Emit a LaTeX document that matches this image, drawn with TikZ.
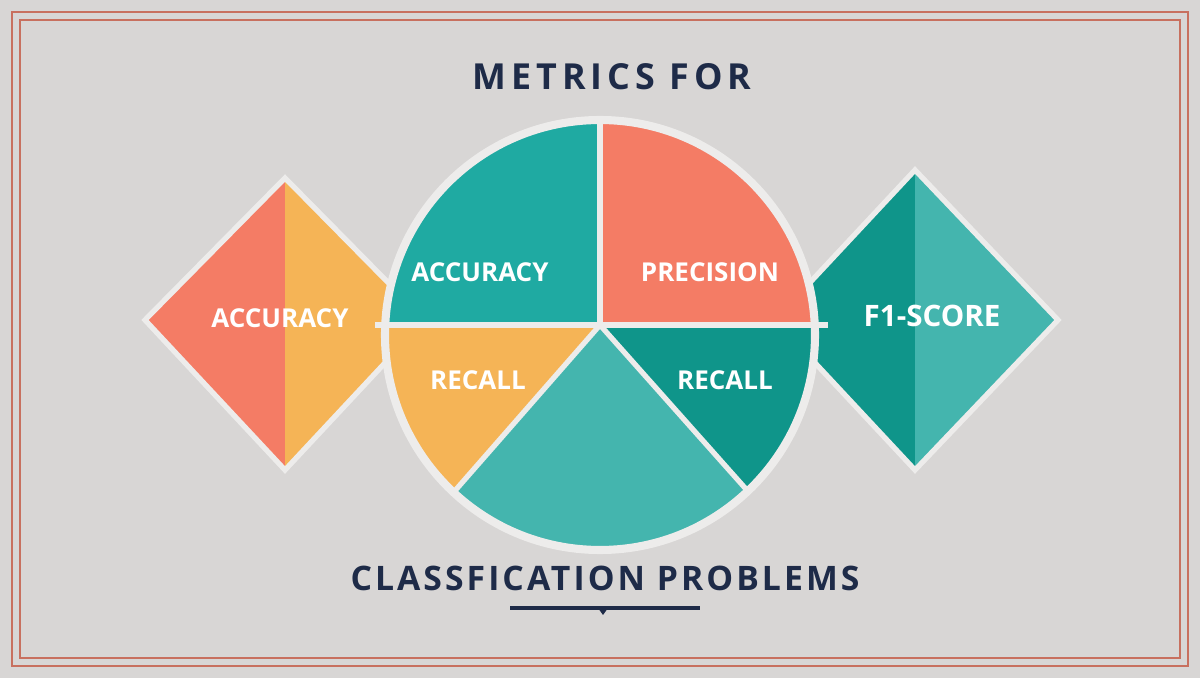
\documentclass[tikz,border=0pt]{standalone}
\usepackage{fontspec}
\setmainfont{Open Sans}
\usetikzlibrary{shapes.geometric}
\definecolor{bgGrey}{HTML}{D8D6D5}
\definecolor{frameRed}{HTML}{C8705F}
\definecolor{navy}{HTML}{1E2B48}
\definecolor{tealA}{HTML}{1FAAA2}
\definecolor{tealB}{HTML}{0F958A}
\definecolor{tealC}{HTML}{44B5AE}
\definecolor{salmon}{HTML}{F47C65}
\definecolor{amber}{HTML}{F5B456}
\definecolor{rim}{HTML}{EDECEB}
\tikzstyle{title} = [text=navy, font=\bfseries\fontsize{9.6}{11}\selectfont\addfontfeatures{LetterSpace=9}]
\tikzstyle{label} = [text=white, font=\bfseries\fontsize{7.4}{9}\selectfont]
\tikzstyle{rimline} = [draw=rim, line width=1.5pt]
\begin{document}
\begin{tikzpicture}
\fill[bgGrey] (0,0) rectangle (12,6.78);
\useasboundingbox (0,0) rectangle (12,6.78);
\draw[frameRed, line width=0.6pt] (0.12,0.12) rectangle (11.88,6.66);
\draw[frameRed, line width=0.4pt] (0.2,0.2) rectangle (11.8,6.58);

% left diamond
\fill[salmon] (1.45,3.58) -- (2.85,5.0) -- (2.85,2.08) -- cycle;
\fill[amber] (2.85,5.0) -- (4.25,3.58) -- (2.85,2.08) -- cycle;
\draw[rimline] (1.45,3.58) -- (2.85,5.0) -- (4.25,3.58) -- (2.85,2.08) -- cycle;

% right diamond
\fill[tealB] (7.75,3.58) -- (9.15,5.08) -- (9.15,2.08) -- cycle;
\fill[tealC] (9.15,5.08) -- (10.58,3.58) -- (9.15,2.08) -- cycle;
\draw[rimline] (7.75,3.58) -- (9.15,5.08) -- (10.58,3.58) -- (9.15,2.08) -- cycle;

% circle sectors
\begin{scope}
\clip (6,3.43) circle (2.15);
\fill[tealA] (3.8,3.53) rectangle (6,5.7);
\fill[salmon] (6,3.53) rectangle (8.2,5.7);
\fill[amber] (6,3.53) -- (3.8,3.53) -- (3.8,0.5) -- (3.9,1.13) -- cycle;
\fill[tealC] (6,3.53) -- (3.9,1.13) -- (3.9,0.8) -- (8.2,0.8) -- (8.18,1.08) -- cycle;
\fill[tealB] (6,3.53) -- (8.18,1.08) -- (8.2,3.53) -- cycle;
\draw[rimline] (6,3.53) -- (6,5.7);
\draw[rimline] (6,3.53) -- (3.9,1.13);
\draw[rimline] (6,3.53) -- (8.18,1.08);
\end{scope}
\draw[rim, line width=2.3pt] (6,3.43) circle (2.15);
\draw[rim, line width=1.6pt] (3.75,3.53) -- (8.28,3.53);

% texts
\node (head) [title, font=\bfseries\fontsize{10.2}{12}\selectfont\addfontfeatures{LetterSpace=14}] at (6.12,6.01) {METRICS FOR};
\node (foot) [title] at (6.05,1.0) {CLASSFICATION PROBLEMS};
\coordinate (ulL) at (5.1,0.7);
\coordinate (ulR) at (7.0,0.7);
\draw[navy, line width=1pt] (ulL) -- (ulR);
\fill[navy] (5.98,0.7) -- (6.08,0.7) -- (6.03,0.63) -- cycle;

\node (accL) [label] at (2.8,3.6) {ACCURACY};
\node (accT) [label] at (4.8,4.06) {ACCURACY};
\node (prec) [label] at (7.1,4.06) {PRECISION};
\node (recL) [label] at (4.78,2.98) {RECALL};
\node (recR) [label] at (7.25,2.98) {RECALL};
\node (f1) [label, font=\bfseries\fontsize{8.4}{10}\selectfont] at (9.32,3.62) {F1-SCORE};

\end{tikzpicture}
\end{document}
